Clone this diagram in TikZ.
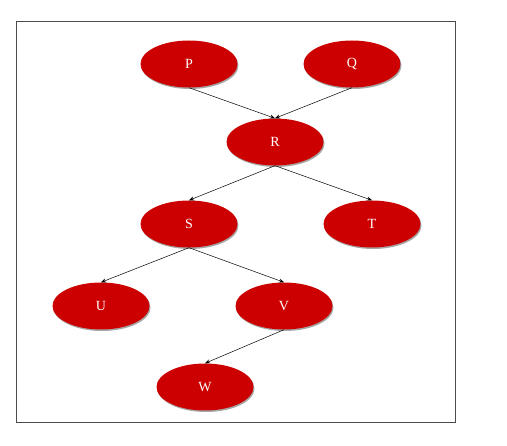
\documentclass[tikz,border=0pt]{standalone}
\usepackage{fontspec}
\setmainfont{Liberation Serif}
\usetikzlibrary{shapes.geometric,shadows,arrows.meta}
\definecolor{nodered}{HTML}{CC0000}
\tikzset{
	blob/.style={ellipse, fill=nodered, text=white, minimum width=97pt, minimum height=47pt, inner sep=0pt,
		drop shadow={shadow xshift=1pt, shadow yshift=-1.5pt, opacity=0.35, fill=black},
		font=\fontsize{14}{16}\selectfont},
	link/.style={-{Stealth[length=5pt,width=4pt]}, line width=0.5pt}
}
\begin{document}
\begin{tikzpicture}[x=1pt,y=-1pt]
	\useasboundingbox (0,0) rectangle (507,446);
	\draw[line width=1pt, black!70] (16,22) rectangle (455,423);
	
	\node (p) [blob] at (189,64) {P};
	\node (q) [blob] at (352,64) {Q};
	\node (r) [blob] at (275,142) {R};
	\node (s) [blob] at (189,224) {S};
	\node (t) [blob] at (372,224) {T};
	\node (u) [blob] at (101,306) {U};
	\node (v) [blob] at (284,306) {V};
	\node (w) [blob] at (205,387) {W};
	
	\draw[link] (p.south) -- (r.north);
	\draw[link] (q.south) -- (r.north);
	\draw[link] (r.south) -- (s.north);
	\draw[link] (r.south) -- (t.north);
	\draw[link] (s.south) -- (u.north);
	\draw[link] (s.south) -- (v.north);
	\draw[link] (v.south) -- (w.north);
\end{tikzpicture}
\end{document}
